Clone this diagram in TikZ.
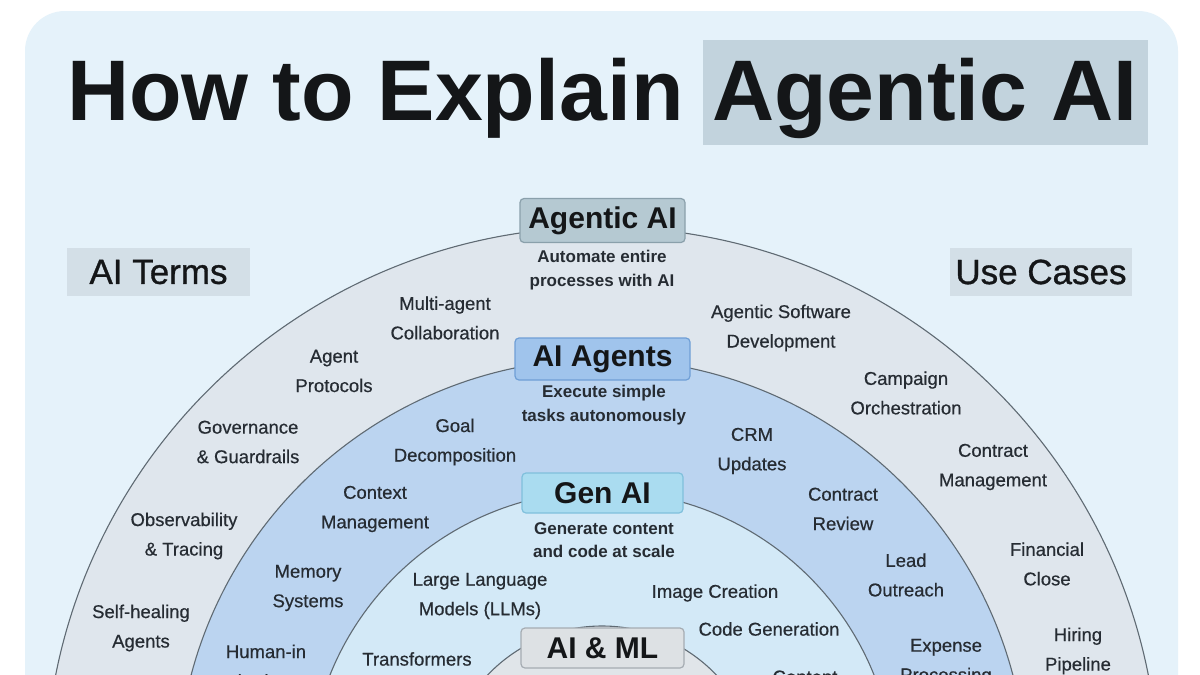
\documentclass[tikz,border=0pt]{standalone}
\usepackage{fontspec}
\setmainfont{Liberation Sans}
\newfontfamily\medfont[FakeBold=0.5]{Liberation Sans}
\newfontfamily\hdrfont[FakeBold=0.9]{Liberation Sans}
\definecolor{panelcol}{HTML}{E5F2FA}
\definecolor{ringA}{HTML}{DFE6ED}
\definecolor{ringB}{HTML}{BBD4F0}
\definecolor{ringC}{HTML}{D3E9F7}
\definecolor{ringD}{HTML}{E0E5E9}
\definecolor{arccol}{HTML}{5F6A73}
\definecolor{labelcol}{HTML}{262C33}
\definecolor{titlecol}{HTML}{141618}
\definecolor{hdrfill}{HTML}{D3DFE7}
\definecolor{hlfill}{HTML}{C2D3DD}
\definecolor{boxAfill}{HTML}{B5C9D2}
\definecolor{boxAdraw}{HTML}{8AA0AB}
\definecolor{boxBfill}{HTML}{A0C4EC}
\definecolor{boxBdraw}{HTML}{6F9FD6}
\definecolor{boxCfill}{HTML}{AADCF0}
\definecolor{boxCdraw}{HTML}{80C0DC}
\definecolor{boxDfill}{HTML}{DDE1E4}
\definecolor{boxDdraw}{HTML}{A5ACB2}
\begin{document}
\begin{tikzpicture}[x=1pt,y=-1pt,
  lbl/.style={align=center,text=labelcol,font=\medfont\fontsize{18.5}{29.5}\selectfont,inner sep=0pt},
  sub/.style={align=center,text=labelcol,font=\bfseries\fontsize{17}{23.5}\selectfont,inner sep=0pt},
  lvl/.style={rounded corners=4pt,minimum height=41pt,font=\bfseries\fontsize{30}{30}\selectfont,text=titlecol,line width=1.2pt,inner sep=0pt},
  ring/.style={draw=arccol,line width=1.1pt},
  hdr/.style={fill=hdrfill,minimum height=48pt,inner sep=0pt,font=\hdrfont\fontsize{35}{35}\selectfont,text=titlecol}]
\useasboundingbox (0,0) rectangle (1200,675);
\clip (0,0) rectangle (1200,675);
\fill[white] (0,0) rectangle (1200,675);
\fill[panelcol, rounded corners=40pt] (25,11) rectangle (1178,760);
% title
\node[fill=hlfill,minimum width=445pt,minimum height=105pt,inner sep=0pt] (hl) at (925.5,92.5) {};
\node[anchor=base west,inner sep=0pt,font=\bfseries\fontsize{86}{86}\selectfont,text=titlecol] (t1) at (67,120) {How to Explain};
\node[anchor=base west,inner sep=0pt,font=\bfseries\fontsize{86}{86}\selectfont,text=titlecol] (t2) at (712,120) {Agentic AI};
% headers
\node[hdr,minimum width=183pt] (terms) at (158.5,272) {AI Terms};
\node[hdr,minimum width=182pt] (uses) at (1041,272) {Use Cases};
% rings
\coordinate (c) at (602,784);
\filldraw[ring,fill=ringA] (c) circle[radius=557pt];
\filldraw[ring,fill=ringB] (c) circle[radius=425pt];
\filldraw[ring,fill=ringC] (c) circle[radius=293pt];
\filldraw[ring,fill=ringD] (c) circle[radius=158pt];
% level boxes
\node[lvl,fill=boxAfill,draw=boxAdraw,minimum width=165pt,minimum height=44pt] (agentic) at (602.5,220.5) {Agentic AI};
\node[sub] (agenticsub) at (602,270) {Automate entire\\processes with AI};
\node[lvl,fill=boxBfill,draw=boxBdraw,minimum width=175pt,minimum height=42pt] (agents) at (602.5,359) {AI Agents};
\node[sub] (agentssub) at (604,405) {Execute simple\\tasks autonomously};
\node[lvl,fill=boxCfill,draw=boxCdraw,minimum width=161pt,minimum height=40pt] (genai) at (602.5,493) {Gen AI};
\node[sub] (genaisub) at (604,540) {Generate content\\and code at scale};
\node[lvl,fill=boxDfill,draw=boxDdraw,minimum width=163pt,minimum height=40pt] (aiml) at (602.5,648) {AI \& ML};
% outer ring labels
\node[lbl] (l1) at (445,318) {Multi-agent\\Collaboration};
\node[lbl] (l2) at (334,371) {Agent\\Protocols};
\node[lbl] (l3) at (248,442) {Governance\\\& Guardrails};
\node[lbl] (l4) at (184,536) {Observability\\\& Tracing};
\node[lbl] (l5) at (141,628) {Self-healing\\Agents};
\node[lbl] (r1) at (781,328) {Agentic Software\\Development};
\node[lbl] (r2) at (906,393) {Campaign\\Orchestration};
\node[lbl] (r3) at (993,467) {Contract\\Management};
\node[lbl] (r4) at (1047,564) {Financial\\Close};
\node[lbl] (r5) at (1078,651) {Hiring\\Pipeline};
% second ring labels
\node[lbl] (m1) at (455,442) {Goal\\Decomposition};
\node[lbl] (m2) at (375,509) {Context\\Management};
\node[lbl] (m3) at (308,588) {Memory\\Systems};
\node[lbl] (m4) at (266,668) {Human-in\\the-loop};
\node[lbl] (n1) at (752,451) {CRM\\Updates};
\node[lbl] (n2) at (843,509) {Contract\\Review};
\node[lbl] (n3) at (906,575) {Lead\\Outreach};
\node[lbl] (n4) at (946,662) {Expense\\Processing};
% third ring labels
\node[lbl] (g1) at (480,596) {Large Language\\Models (LLMs)};
\node[lbl] (g2) at (417,659) {Transformers};
\node[lbl] (h1) at (715,593) {Image Creation};
\node[lbl] (h2) at (769,629) {Code Generation};
\node[lbl] (h3) at (805,677) {Content};
\end{tikzpicture}
\end{document}
